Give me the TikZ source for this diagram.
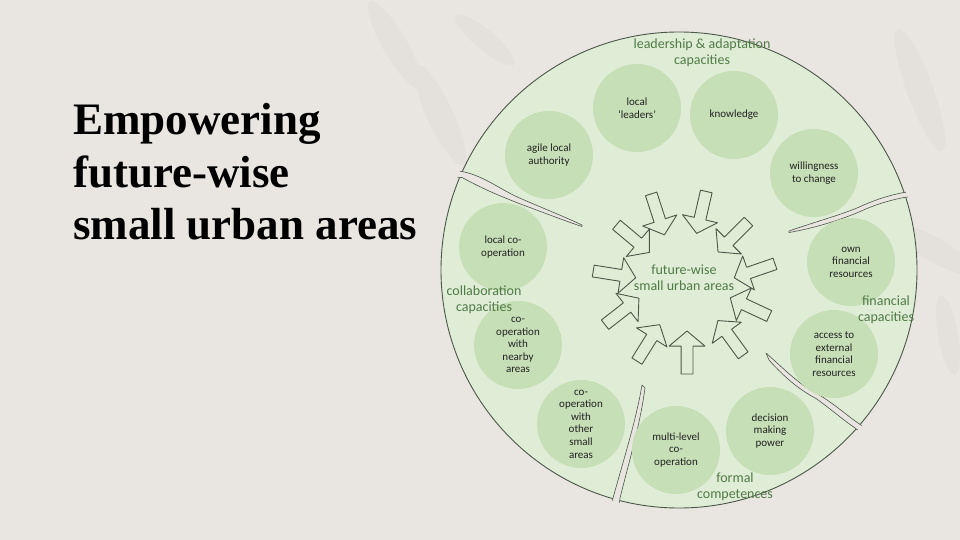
\documentclass[tikz,border=0pt]{standalone}
\usepackage{fontspec}
\setmainfont{Liberation Serif}
\newfontfamily\hand{Carlito}
\usetikzlibrary{shapes.arrows}
\definecolor{bg}{HTML}{E9E5E1}
\definecolor{disc}{HTML}{E0EDD6}
\definecolor{dot}{HTML}{C6DFB6}
\definecolor{edge}{HTML}{4B5748}
\definecolor{lab}{HTML}{4F7A46}
\definecolor{ink}{HTML}{222222}
\definecolor{leaf}{HTML}{E4E0DC}
\begin{document}
\begin{tikzpicture}[x=1pt,y=-1pt,
  factor/.style={circle,fill=dot,minimum size=88pt,inner sep=0pt,align=center,
    font={\hand\fontsize{11}{12.6}\selectfont},text=ink},
  captext/.style={align=center,font={\hand\fontsize{14}{16}\selectfont},text=lab},
  inarrow/.style={single arrow,draw=edge,fill=disc,line width=0.9pt,minimum height=43pt,
    inner sep=5.5pt,single arrow head extend=12pt,single arrow tip angle=100,line join=round},
  gap/.style={fill=bg,draw=edge,line width=0.6pt,line join=round},
  titletext/.style={anchor=base west,inner sep=0pt,text=black,
    font={\bfseries\fontsize{45}{52}\selectfont}},
  shade/.style={fill=leaf,draw=none}]
\useasboundingbox (0,0) rectangle (960,540);
\fill[bg] (0,0) rectangle (960,540);
% faint leaf shadows
\fill[shade,rotate around={-60:(395,45)}] (395,45) ellipse [x radius=50pt,y radius=12pt];
\fill[shade,rotate around={-65:(440,115)}] (440,115) ellipse [x radius=55pt,y radius=13pt];
\fill[shade,rotate around={-40:(485,40)}] (485,40) ellipse [x radius=38pt,y radius=10pt];
\fill[shade,rotate around={-70:(920,90)}] (920,90) ellipse [x radius=65pt,y radius=13pt];
\fill[shade,rotate around={-30:(935,250)}] (935,250) ellipse [x radius=45pt,y radius=12pt];
\fill[shade,rotate around={-80:(948,335)}] (948,335) ellipse [x radius=40pt,y radius=10pt];
% title
\node[titletext] (t1) at (73,135) {Empowering};
\node[titletext] (t2) at (73,187) {future-wise};
\node[titletext] (t3) at (73,239) {small urban areas};
% main disc
\node[circle,minimum size=476pt,inner sep=0pt,fill=disc,draw=edge,line width=0.9pt] (disc) at (679,270) {};
% gaps between sectors
\begin{scope}
\clip (679,270) circle [radius=240pt];
\draw[gap] (445,170) -- (462,171.5) .. controls (485,176) and (500,190) .. (523,199.5)
  .. controls (545,209) and (565,217) .. (582,225)
  -- (582,226.5) .. controls (565,221) and (545,213) .. (523,205)
  .. controls (500,196) and (485,190) .. (462,177.5) -- (445,178) -- cycle;
\draw[gap] (920,190) -- (904,192.5) .. controls (885,196) and (870,202) .. (857,208)
  .. controls (840,215) and (815,222) .. (789,231)
  -- (789,232.5) .. controls (815,228) and (840,220) .. (859,212)
  .. controls (872,206) and (886,201) .. (904,197.5) -- (920,195) -- cycle;
\draw[gap] (766,353) .. controls (785,370) and (800,385) .. (815,392.5)
  .. controls (832,402) and (845,414) .. (858,423) -- (870,431.5) -- (867,436.5)
  -- (855,428) .. controls (842,419) and (832,410) .. (816,398.5)
  .. controls (800,390) and (785,378) .. (769,360) -- cycle;
\draw[gap] (642,385) .. controls (636,420) and (625,455) .. (613,498) -- (609,515)
  -- (618,515) -- (620,498) .. controls (630,458) and (640,425) .. (645,388) -- cycle;
\end{scope}
% factor circles
\node[factor] (leaders) at (637,108) {local\\‘leaders’};
\node[factor] (knowledge) at (734,115) {knowledge};
\node[factor] (agile) at (549,155) {agile local\\authority};
\node[factor] (willing) at (814,173) {willingness\\to change};
\node[factor] (localco) at (503,247) {local co-\\operation};
\node[factor] (own) at (851,262) {own\\financial\\resources};
\node[factor] (access) at (834,354) {access to\\external\\financial\\resources};
\node[factor] (decision) at (770,431) {decision\\making\\power};
\node[factor] (multi) at (676,450) {multi-level\\co-\\operation};
\node[factor] (other) at (581,424) {co-\\operation\\with\\other\\small\\areas};
\node[factor] (nearby) at (518,345) {co-\\operation\\with\\nearby\\areas};
% inward arrows
\node[inarrow,rotate=-72] (a1) at (657,212) {};
\node[inarrow,rotate=-103] (a2) at (702,210) {};
\node[inarrow,rotate=-40] (a3) at (631,237) {};
\node[inarrow,rotate=-9] (a4) at (612,274) {};
\node[inarrow,rotate=38] (a5) at (620,313) {};
\node[inarrow,rotate=58] (a6) at (647,345) {};
\node[inarrow,rotate=90] (a7) at (687,355) {};
\node[inarrow,rotate=126] (a8) at (732,340) {};
\node[inarrow,rotate=155] (a9) at (752,308) {};
\node[inarrow,rotate=199] (a10) at (757,270) {};
\node[inarrow,rotate=225] (a11) at (735,235) {};
% captions
\node[captext] (centre) at (684,278) {future-wise\\small urban areas};
\node[captext] (lead) at (702,53) {leadership \& adaptation\\capacities};
\node[captext] (collab) at (484,300) {collaboration\\capacities};
\node[captext] (fin) at (886,310) {financial\\capacities};
\node[captext] (formal) at (735,487) {formal\\competences};
\end{tikzpicture}
\end{document}
